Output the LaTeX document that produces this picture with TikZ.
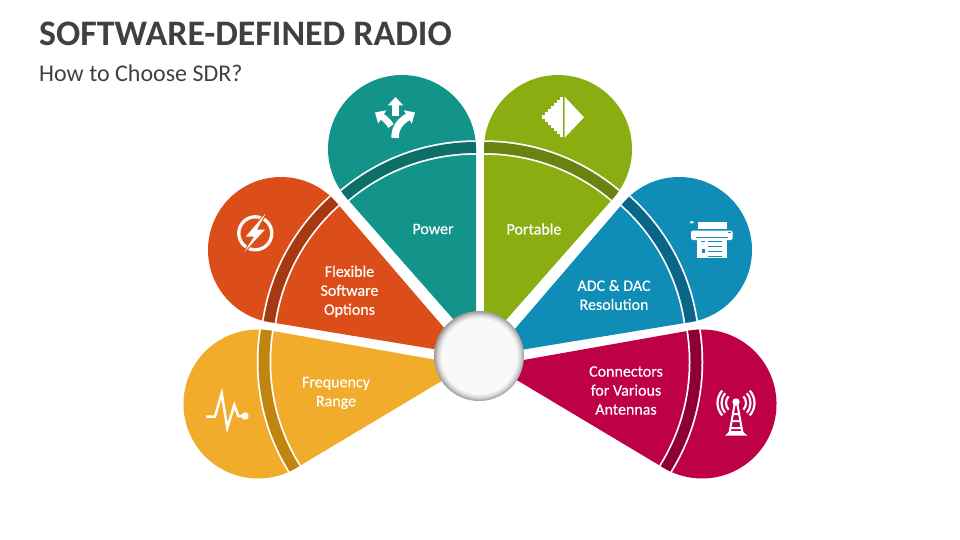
\documentclass[tikz,border=0pt]{standalone}
\usepackage{fontspec}
\setmainfont{Carlito}
\newfontfamily\labelfont[FakeBold=0.25]{Carlito}
\usetikzlibrary{arrows.meta}

\definecolor{inktext}{HTML}{404040}
\definecolor{tealfill}{HTML}{13948B}
\definecolor{tealdark}{HTML}{0E6E68}
\definecolor{greenfill}{HTML}{8AAE12}
\definecolor{greendark}{HTML}{6A820F}
\definecolor{orangefill}{HTML}{DC4E19}
\definecolor{orangedark}{HTML}{A73912}
\definecolor{yellowfill}{HTML}{F0AC2A}
\definecolor{yellowdark}{HTML}{C0850F}
\definecolor{bluefill}{HTML}{0F8DB7}
\definecolor{bluedark}{HTML}{0A6686}
\definecolor{redfill}{HTML}{BE0046}
\definecolor{reddark}{HTML}{8E0035}

\pgfdeclareradialshading{hubshade}{\pgfpoint{0bp}{0bp}}{
	rgb(0bp)=(.976,.976,.976);
	rgb(21bp)=(.976,.976,.976);
	rgb(23bp)=(.83,.83,.83);
	rgb(25bp)=(.6,.6,.6);
	rgb(50bp)=(.6,.6,.6)}

% fill, dark, circle centre, radius, start, end, tip, band centre, band radius
\newcommand{\petal}[9]{
	\begin{scope}
		\clip (#7) -- ([shift={(#5:#4)}]#3) arc[start angle=#5, end angle=#6, radius=#4] -- cycle;
		\fill[#1] (-500,-100) rectangle (1500,700);
		\draw[white, line width=14.5pt] (#8) circle (#9);
		\draw[#2, line width=11pt] (#8) circle (#9);
	\end{scope}
}

\begin{document}
\begin{tikzpicture}[
		x=1pt, y=1pt,
		yscale=-1,
		label/.style={white, align=center, font=\labelfont\fontsize{16}{19}\selectfont},
		icon/.style={white, line width=#1},
		icon/.default=2pt,
	]
	\useasboundingbox (0, 0) rectangle (960, 540);

	% headings
	\node[anchor=west, inner sep=0pt, text=inktext, font=\fontsize{35.9}{40}\selectfont\bfseries] (title) at (39, 34) {SOFTWARE-DEFINED RADIO};
	\node[anchor=west, inner sep=0pt, text=inktext, font=\fontsize{24}{28}\selectfont] (subtitle) at (39, 73) {How to Choose SDR?};

	% left petals
	\petal{tealfill}{tealdark}{402,149}{74}{0}{-221.4}{476,345}{476,351}{203.5}
	\petal{orangefill}{orangedark}{281,250}{73}{-40.7}{-260.7}{467,354.5}{470,352}{203}
	\petal{yellowfill}{yellowdark}{258,404}{74.5}{-79.9}{-300.9}{467.6,365.5}{466,362}{202}

	% right petals
	\begin{scope}[xshift=960pt, xscale=-1]
		\petal{greenfill}{greendark}{402,149}{74}{0}{-221.4}{476,345}{476,351}{203.5}
		\petal{bluefill}{bluedark}{281,250}{73}{-40.7}{-260.7}{467,354.5}{470,352}{203}
		\petal{redfill}{reddark}{258,404}{74.5}{-79.9}{-300.9}{467.6,365.5}{466,362}{202}
	\end{scope}

	\node[circle, minimum size=90pt, inner sep=0pt, shading=hubshade] (hub) at (479, 356) {};

	% labels
	\node[label] (power) at (433, 229) {Power};
	\node[label] (portable) at (534, 229) {Portable};
	\node[label] (flexible) at (349.5, 291.5) {Flexible\\Software\\Options};
	\node[label] (resolution) at (614, 295) {ADC \& DAC\\Resolution};
	\node[label] (frequency) at (336, 393) {Frequency\\Range};
	\node[label] (connectors) at (626, 390.5) {Connectors\\for Various\\Antennas};

	% split arrows
	\draw[icon=7.5pt, -{Triangle[length=8.5pt, width=15pt]}] (395.5, 116) -- (395.5, 97);
	\draw[icon=7.5pt, -{Triangle[length=8.5pt, width=15pt]}] (395, 138) .. controls (395, 127) and (401, 121) .. (415, 112.5);
	\draw[icon=6.5pt, -{Triangle[length=8.5pt, width=15pt]}] (391, 126) .. controls (388, 121) and (384, 118) .. (375, 112.5);

	% diamond
	\foreach \s in {1,...,7}
		\fill[white] (563.4-3*\s, 97.2+3*\s-3) rectangle (563.4, 137.2-3*\s+3);
	\fill[white] (564.6, 96.7) -- (584, 117.3) -- (564.6, 137.7) -- cycle;

	% printer
	\fill[white] (697.7, 221.7) rectangle (726.7, 229.3);
	\fill[white, rounded corners=1.5pt] (691, 240) -- (691, 230.5) -- (732.7, 230.5) -- (732.7, 240) -- cycle;
	\fill[bluefill] (696, 236.5) rectangle (728, 238);
	\fill[white] (697.3, 238) rectangle (726.7, 258.3);
	\draw[bluefill, line width=.8pt] (708, 241.5) -- (722, 241.5) (708, 246) -- (722, 246) (708, 251) -- (722, 251) (708, 256) -- (722, 256) (701, 241.5) -- (705, 241.5);
	\fill[bluefill] (702, 249) rectangle (705, 253);
	\draw[white, line width=.7pt] (691.7, 222.3) ellipse (1.6 and 1);
	\fill[bluefill] (728, 231.6) rectangle (731, 232.6);

	% antenna
	\foreach \r in {10, 14.5, 18.5} {
		\draw[icon=2.2pt] ([shift={(-42:\r)}]736, 403) arc[start angle=-42, end angle=42, radius=\r];
		\draw[icon=2.2pt] ([shift={(138:\r)}]736, 403) arc[start angle=138, end angle=222, radius=\r];
	}
	\fill[white] (736, 402) circle (3.7);
	\draw[icon=2pt] (734.5, 405) -- (729.5, 433) (737.5, 405) -- (742.5, 433) (733, 414) -- (739, 414) (732, 421) -- (740, 421) (730.5, 428) -- (741.5, 428);
	\fill[white] (725, 435.5) -- (730, 431) -- (742, 431) -- (747.3, 435.5) -- cycle;

	% pulse
	\draw[icon=2.5pt] (206, 416.5) -- (215, 416.5) -- (221.7, 393.5) -- (227.3, 428) -- (234.3, 405) -- (238.3, 416) -- (245, 416);
	\fill[white] (245, 416) circle (3.7);

	% bolt
	\draw[icon=3.3pt] (255.3, 233.3) circle (16.5);
	\draw[orangefill, line width=2.2pt, line join=round, preaction={draw}, fill=white] (265.7, 213.3) -- (245.7, 236.7) -- (254, 236.7) -- (244.3, 252) -- (265, 229.5) -- (257, 229.5) -- cycle;
	\fill[white] (265.7, 213.3) -- (245.7, 236.7) -- (254, 236.7) -- (244.3, 252) -- (265, 229.5) -- (257, 229.5) -- cycle;
\end{tikzpicture}
\end{document}
